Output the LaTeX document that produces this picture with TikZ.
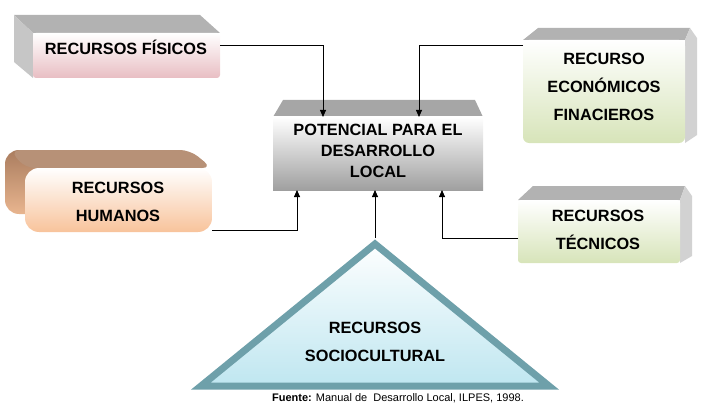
\documentclass[tikz,border=0pt]{standalone}
\usepackage{fontspec}
\setmainfont{Liberation Sans}
\usetikzlibrary{arrows.meta}
\definecolor{pinkb}{RGB}{232,190,195}
\definecolor{greenb}{RGB}{215,228,185}
\definecolor{orangeb}{RGB}{248,195,155}
\definecolor{brownt}{RGB}{170,125,95}
\definecolor{tealb}{RGB}{110,160,170}
\definecolor{lightb}{RGB}{190,230,240}
\tikzset{
 lbl/.style={font=\bfseries\fontsize{16.3}{28}\selectfont, align=center, text=black},
 conn/.style={draw=black, line width=0.8pt, -{Triangle[length=7pt,width=6pt]}},
}
\begin{document}
\begin{tikzpicture}[x=1pt,y=-1pt]
\useasboundingbox (0,0) rectangle (713,412);
% Fisicos
\fill[gray!60] (14,15) -- (200,15) -- (220,33) -- (33,33) -- cycle;
\fill[gray!45] (14,15) -- (33,33) -- (33,78) -- (14,62) -- cycle;
\shade[top color=white, bottom color=pinkb, rounded corners=3pt] (33,33) rectangle (220,78);
\node[lbl] (fis) at (126,47) {RECURSOS FÍSICOS};
\coordinate (fisR) at (220,45);
% Potencial
\fill[gray!70] (283,100) -- (475,100) -- (483,117) -- (273,117) -- cycle;
\shade[top color=white, bottom color=gray!75] (273,117) rectangle (483,190);
\node[lbl, font=\bfseries\fontsize{16.3}{21}\selectfont] (pot) at (378,151) {POTENCIAL PARA EL\\DESARROLLO\\LOCAL};
\coordinate (potT1) at (323,117);
\coordinate (potT2) at (419,117);
\coordinate (potB1) at (297,190);
\coordinate (potB2) at (375,190);
\coordinate (potB3) at (442,190);
% Economicos
\fill[gray!60] (538,28) -- (690,28) -- (685,40) -- (523,40) -- cycle;
\fill[gray!35] (690,28) -- (697,38) -- (697,135) -- (685,143) -- (685,40) -- cycle;
\shade[top color=white, bottom color=greenb, rounded corners=6pt] (523,40) rectangle (685,143);
\node[lbl] (eco) at (604,87) {RECURSO\\ECONÓMICOS\\FINACIEROS};
\coordinate (ecoL) at (523,45);
% Tecnicos
\fill[gray!60] (533,186) -- (685,186) -- (680,200) -- (518,200) -- cycle;
\fill[gray!35] (685,186) -- (692,196) -- (692,256) -- (680,263) -- (680,200) -- cycle;
\shade[top color=white, bottom color=greenb, rounded corners=3pt] (518,200) rectangle (680,263);
\node[lbl] (tec) at (598,230) {RECURSOS\\TÉCNICOS};
\coordinate (tecL) at (518,238);
% Humanos
\shade[top color=brownt, bottom color=orangeb!80!brownt, rounded corners=14pt] (5,150) rectangle (192,214);
\fill[brownt!85, rounded corners=10pt] (10,150) -- (190,150) -- (212,168) -- (25,168) -- cycle;
\shade[top color=white, bottom color=orangeb, rounded corners=14pt] (25,168) rectangle (212,232);
\node[lbl] (hum) at (118,202) {RECURSOS\\HUMANOS};
\coordinate (humR) at (212,230);
% Triangle
\shade[top color=white, bottom color=lightb] (375,240) -- (553,388) -- (197,388) -- cycle;
\draw[tealb, line width=7pt, line join=miter] (375,244) -- (549,386) -- (201,386) -- cycle;
\node[lbl] (soc) at (375,342) {RECURSOS\\SOCIOCULTURAL};
\coordinate (apex) at (375,238);
% Connectors
\draw[conn] (fisR) -| (potT1);
\draw[conn] (ecoL) -| (potT2);
\draw[conn] (humR) -| (potB1);
\draw[conn] (tecL) -| (potB3);
\draw[conn] (apex) -- (potB2);
\node (src) at (398,398) {\fontsize{11}{12}\selectfont\textbf{Fuente:} Manual de \ Desarrollo Local, ILPES, 1998.};
\end{tikzpicture}
\end{document}
